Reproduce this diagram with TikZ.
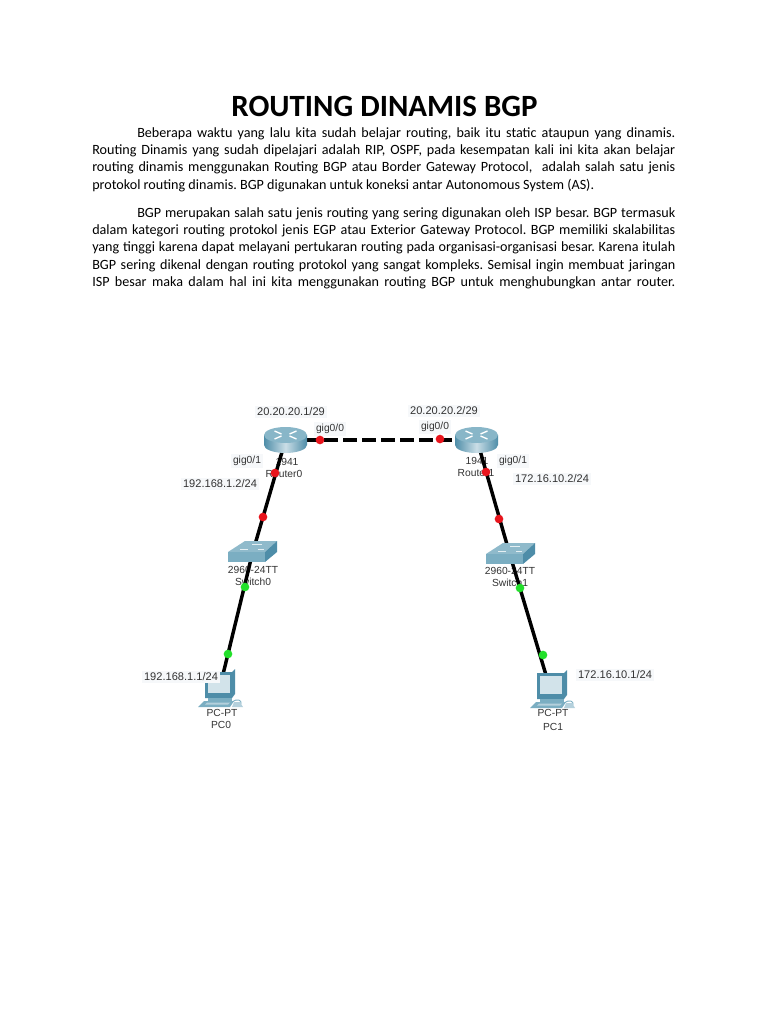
\documentclass[tikz,border=0pt]{standalone}
\usepackage{fontspec}
\setmainfont{Carlito}
\newfontfamily\netfont{Liberation Sans}
\definecolor{patch}{HTML}{F6F8FA}
\definecolor{devlight}{HTML}{B4D0DC}
\definecolor{devmid}{HTML}{7BAEC2}
\definecolor{devdark}{HTML}{4E8DA8}
\definecolor{reddot}{HTML}{E8141C}
\definecolor{greendot}{HTML}{22E02A}
\tikzset{
  x=0.75pt,y=-0.75pt,
  parabox/.style={anchor=north west,inner sep=0pt,text width=437.25pt,align=justify,font=\fontsize{10.6}{13.05}\selectfont\frenchspacing},
  netlabel/.style={inner sep=1.5pt,fill=patch,text=black!80,font=\netfont\fontsize{7.7}{9}\selectfont},
  iplabel/.style={netlabel,font=\netfont\fontsize{8.3}{9}\selectfont},
  devlabel/.style={inner sep=0.5pt,text=black!80,font=\netfont\fontsize{7.7}{9}\selectfont},
  anchorbox/.style={inner sep=0pt,minimum size=1pt},
  link/.style={line width=2.6pt,black},
  wan/.style={line width=2.6pt,black,dash pattern=on 10.5pt off 3.75pt},
  reddotmark/.style={circle,fill=reddot,inner sep=0pt,minimum size=6.5pt},
  greendotmark/.style={circle,fill=greendot,inner sep=0pt,minimum size=6.5pt},
  routerpic/.pic={
    \path[left color=devdark,right color=devdark,middle color=devlight!70!white]
      (-21.5,-5) -- (-21.5,5) arc[start angle=180,end angle=0,x radius=21.5,y radius=8] -- (21.5,-5) -- cycle;
    \fill[devmid!90!white] (0,-5) ellipse[x radius=21.5,y radius=8];
    \draw[white,line width=1pt] (-11,-9) -- (-4,-6) (11,-9) -- (4,-6) (-11,-1) -- (-4,-4) (11,-1) -- (4,-4);
  },
  switchpic/.pic={
    \fill[devmid!85!white] (-24,0) -- (-7,-11) -- (25,-11) -- (13,0) -- cycle;
    \fill[devmid] (-24,0) rectangle (13,10);
    \fill[devdark] (13,0) -- (25,-11) -- (25,0) -- (13,10) -- cycle;
    \draw[white!80!devmid,line width=0.7pt] (-12,-3) -- (-4,-3) (0,-8) -- (10,-8) (6,-3) -- (12,-3);
  },
  pcpic/.pic={
    \fill[devdark] (-15,-16) -- (12,-16) -- (15,-19) -- (15,6) -- (12,10) -- (-15,10) -- cycle;
    \fill[devlight!60!white] (-12,-13) rectangle (10,5);
    \fill[devmid] (-12,10) rectangle (12,13);
    \fill[devmid] (-16,13) -- (14,13) -- (10,19) -- (-22,19) -- cycle;
    \fill[devlight] (-13,14.5) -- (10,14.5) -- (8,16.5) -- (-15,16.5) -- cycle;
    \draw[devmid,line width=0.7pt] (12,14) .. controls (17,10) and (22,12) .. (21,16);
    \fill[devlight] (14,14) -- (20,14) -- (23,19) -- (12,19) -- cycle;
  }
}
\begin{document}
\begin{tikzpicture}
\useasboundingbox (0,0) rectangle (768,1024);
\fill[white] (0,0) rectangle (768,1024);
% text
\node[inner sep=0pt,font=\fontsize{23.2}{27}\selectfont\bfseries,text=black] (title) at (384.5,106) {ROUTING DINAMIS BGP};
\node[parabox] (para1) at (92,127) {\leavevmode\hspace*{33.75pt}Beberapa waktu yang lalu kita sudah belajar routing, baik itu static ataupun yang dinamis.\linebreak[4] Routing Dinamis yang sudah dipelajari adalah RIP, OSPF, pada kesempatan kali ini kita akan belajar\linebreak[4] routing dinamis menggunakan Routing BGP atau Border Gateway Protocol,\ \ adalah salah satu jenis\linebreak[4] protokol routing dinamis. BGP digunakan untuk koneksi antar Autonomous System (AS).};
\node[parabox] (para2) at (92,207) {\leavevmode\hspace*{33.75pt}BGP merupakan salah satu jenis routing yang sering digunakan oleh ISP besar. BGP termasuk\linebreak[4] dalam kategori routing protokol jenis EGP atau Exterior Gateway Protocol. BGP memiliki skalabilitas\linebreak[4] yang tinggi karena dapat melayani pertukaran routing pada organisasi-organisasi besar. Karena itulah\linebreak[4] BGP sering dikenal dengan routing protokol yang sangat kompleks. Semisal ingin membuat jaringan\linebreak[4] \makebox[\linewidth][s]{ISP besar maka dalam hal ini kita menggunakan routing BGP untuk menghubungkan antar router.}};
% device anchors
\node[anchorbox] (r0) at (285.5,440) {};
\node[anchorbox] (r1) at (477,440) {};
\node[anchorbox] (s0) at (252.5,553) {};
\node[anchorbox] (s1) at (510,555) {};
\node[anchorbox] (pc0) at (218,695) {};
\node[anchorbox] (pc1) at (552,695) {};
% labels below links
\node[iplabel] (ip1) at (291,412) {20.20.20.1/29};
\node[iplabel] (ip2) at (444,411) {20.20.20.2/29};
\node[netlabel] (g00a) at (330,429) {gig0/0};
\node[netlabel] (g00b) at (435,427) {gig0/0};
\node[netlabel] (g01a) at (247,461) {gig0/1};
\node[netlabel] (g01b) at (513,461) {gig0/1};
\node[iplabel] (ip3) at (220,484) {192.168.1.2/24};
\node[iplabel] (ip4) at (552,479) {172.16.10.2/24};
\node[iplabel] (ip6) at (615,675) {172.16.10.1/24};
\node[devlabel] (m0) at (287,462) {1941};
\node[devlabel] (n0) at (284,474) {Router0};
\node[devlabel] (m1) at (477,461) {1941};
\node[devlabel] (n1) at (476,473) {Router1};
\node[devlabel] (m2) at (253,570) {2960-24TT};
\node[devlabel] (n2) at (253,582) {Switch0};
\node[devlabel] (m3) at (510,571) {2960-24TT};
\node[devlabel] (n3) at (510,583) {Switch1};
\node[devlabel] (m4) at (222,713) {PC-PT};
\node[devlabel] (n4) at (221,725) {PC0};
\node[devlabel] (m5) at (553,713) {PC-PT};
\node[devlabel] (n5) at (553,727) {PC1};
% connectors
\draw[wan] (r0) -- (r1);
\draw[link] (r0) -- (s0);
\draw[link] (r1) -- (s1);
\draw[link] (s0) -- (pc0);
\draw[link] (s1) -- (pc1);
% icons
\path (285.5,440) pic {routerpic};
\path (476.5,440) pic {routerpic};
\path (252,552) pic {switchpic};
\path (510,554) pic {switchpic};
\path (220,688) pic {pcpic};
\path (552,689) pic {pcpic};
% link lights
\node[reddotmark] (d1) at (320,440) {};
\node[reddotmark] (d2) at (440,439) {};
\node[reddotmark] (d3) at (275,473) {};
\node[reddotmark] (d4) at (263,517) {};
\node[reddotmark] (d5) at (486,472) {};
\node[reddotmark] (d6) at (499,519) {};
\node[greendotmark] (d7) at (245,587) {};
\node[greendotmark] (d8) at (228,654) {};
\node[greendotmark] (d9) at (520,588) {};
\node[greendotmark] (d10) at (543,655) {};
\node[iplabel] (ip5) at (181,677) {192.168.1.1/24};
\end{tikzpicture}
\end{document}
